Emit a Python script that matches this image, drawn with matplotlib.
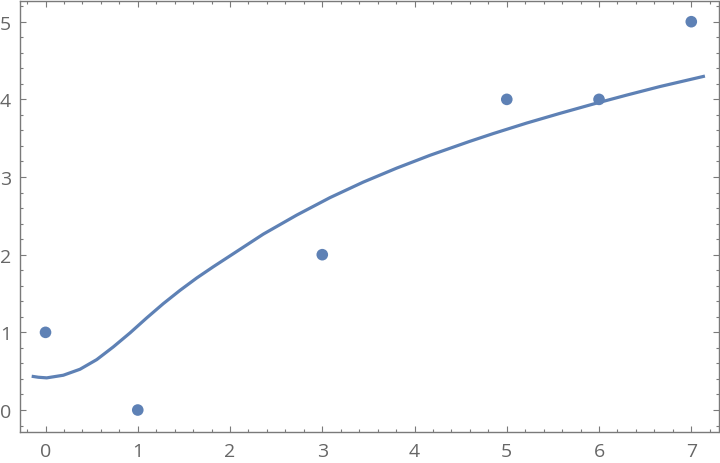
import matplotlib
matplotlib.use("Agg")
import matplotlib.pyplot as plt
from matplotlib.ticker import MultipleLocator

# data points
pts_x = [0, 1, 3, 5, 6, 7]
pts_y = [1, 0, 2, 4, 4, 5]

# fitted curve, values
curve_x = [-0.15, -0.078, 0.013, 0.193, 0.374, 0.555, 0.735, 0.916, 1.097,
           1.277, 1.458, 1.639, 1.819, 2.0, 2.361, 2.723, 3.084, 3.445,
           3.807, 4.168, 4.593, 4.854, 5.216, 5.577, 5.938, 6.30, 6.66, 7.148]
curve_y = [0.435, 0.422, 0.414, 0.448, 0.525, 0.649, 0.813, 0.993, 1.186,
           1.370, 1.541, 1.700, 1.845, 1.985, 2.265, 2.510, 2.735, 2.935,
           3.115, 3.280, 3.457, 3.560, 3.695, 3.820, 3.940, 4.055, 4.165, 4.300]

x_ticks = [0, 1, 2, 3, 4, 5, 6, 7]
y_ticks = [0, 1, 2, 3, 4, 5]

color = '#5E81B5'
frame = '#7a7a7a'
label_c = '#666666'

plt.rcParams['font.family'] = ['Open Sans', 'DejaVu Sans']

fig = plt.figure(figsize=(7.2, 4.64), dpi=100)
ax = fig.add_axes([19.5/720, 31/464, 699/720, 431.5/464])

ax.plot(curve_x, curve_y, color=color, lw=2.3, solid_capstyle='butt',
        solid_joinstyle='round', zorder=2)
ax.scatter(pts_x, pts_y, s=70, color=color, edgecolors='none', zorder=3)

ax.set_xlim(-0.282, 7.295)
ax.set_ylim(-0.283, 5.273)
ax.set_xticks(x_ticks)
ax.set_yticks(y_ticks)
ax.xaxis.set_minor_locator(MultipleLocator(0.2))
ax.yaxis.set_minor_locator(MultipleLocator(0.2))

for s in ax.spines.values():
    s.set_color(frame)
    s.set_linewidth(1.0)

ax.tick_params(which='both', direction='in', top=True, right=True, color=frame, width=0.8)
ax.tick_params(which='major', length=4)
ax.tick_params(which='minor', length=2)
ax.tick_params(axis='x', which='major', pad=7, labelsize=14, labelcolor=label_c)
ax.tick_params(axis='y', which='major', pad=6, labelsize=14, labelcolor=label_c)

fig.savefig('out.png', dpi=100)
